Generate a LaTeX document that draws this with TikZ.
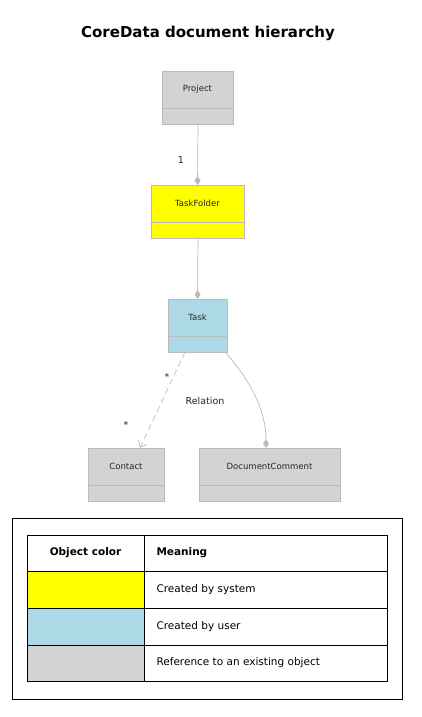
\documentclass[tikz,border=0pt]{standalone}
\usepackage{fontspec}
\setmainfont{DejaVu Sans}
\usetikzlibrary{arrows.meta}
\definecolor{gr}{HTML}{D3D3D3}
\definecolor{lb}{HTML}{ADD8E6}
\definecolor{ln}{HTML}{BBBBBB}
\definecolor{yl}{HTML}{FFFF00}
\begin{document}
\begin{tikzpicture}[x=1pt,y=-1pt,
  cls/.style={draw=ln,line width=0.6pt},
  lab/.style={font=\fontsize{8.5}{10}\selectfont,text=black!85},
  tab/.style={font=\fontsize{10.5}{12}\selectfont},
  con/.style={draw=ln,line width=0.7pt},
  dia/.style={-{Diamond[fill=ln,length=9pt,width=6pt]}}]
\useasboundingbox (0,0) rectangle (421,717);
% title
\node[font=\bfseries\fontsize{15}{17}\selectfont] (title) at (208,33) {CoreData document hierarchy};
% class boxes
\newcommand\clsbox[7]{%
  \fill[#6] (#1,#2) rectangle (#3,#4);
  \draw[cls] (#1,#2) rectangle (#3,#4);
  \draw[ln,line width=0.4pt] (#1,#5) -- (#3,#5);
  \node[lab,anchor=center] (#7) at ({(#1+#3)/2},{(#2+#5)/2}) {#7};
  \coordinate (#7-t) at ({(#1+#3)/2},#2);
}
\clsbox{162}{71}{233}{124}{108}{gr}{Project}
\clsbox{151}{185}{244}{238}{222}{yl}{TaskFolder}
\clsbox{168}{299}{227}{352}{336}{lb}{Task}
\clsbox{88}{448}{164}{501}{485}{gr}{Contact}
\clsbox{199}{448}{340}{501}{485}{gr}{DocumentComment}
\coordinate (pb) at (198,124);
\coordinate (fb) at (198,238);
\coordinate (tb1) at (185,352);
\coordinate (tb2) at (225,352);
\coordinate (ct) at (140,448);
\coordinate (dt) at (266,448);
\draw[con,dia] (pb) -- (TaskFolder-t);
\draw[con,dia] (fb) -- (Task-t);
\draw[con,dashed,dash pattern=on 6pt off 4pt,-{Straight Barb[length=6pt,width=10pt]}] (tb1) -- (ct);
\draw[con,dia] (tb2) .. controls (250,380) and (266,410) .. (dt);
\node[lab,font=\fontsize{9.5}{11}\selectfont] (one) at (181,160) {1};
\node[lab,font=\fontsize{9.5}{11}\selectfont] (s1) at (167,377) {*};
\node[lab,font=\fontsize{9.5}{11}\selectfont] (s2) at (126,425) {*};
\node[lab,font=\fontsize{9.5}{11}\selectfont] (rel) at (205,401) {Relation};
% legend
\draw[black,line width=0.6pt] (12,518) rectangle (402,699);
\fill[yl] (27,571) rectangle (144,608);
\fill[lb] (27,608) rectangle (144,645);
\fill[gr] (27,645) rectangle (144,681);
\draw[black,line width=0.6pt] (27,535) rectangle (387,681);
\foreach \y in {571,608,645} \draw[black,line width=0.6pt] (27,\y) -- (387,\y);
\draw[black,line width=0.6pt] (144,535) -- (144,681);
\node[tab,font=\bfseries\fontsize{10.5}{12}\selectfont] (h1) at (85.5,553) {Object color};
\node[tab,font=\bfseries\fontsize{10.5}{12}\selectfont,anchor=west] (h2) at (153,553) {Meaning};
\node[tab,anchor=west] (m1) at (153,590) {Created by system};
\node[tab,anchor=west] (m2) at (153,627) {Created by user};
\node[tab,anchor=west] (m3) at (153,663) {Reference to an existing object};
\end{tikzpicture}
\end{document}
